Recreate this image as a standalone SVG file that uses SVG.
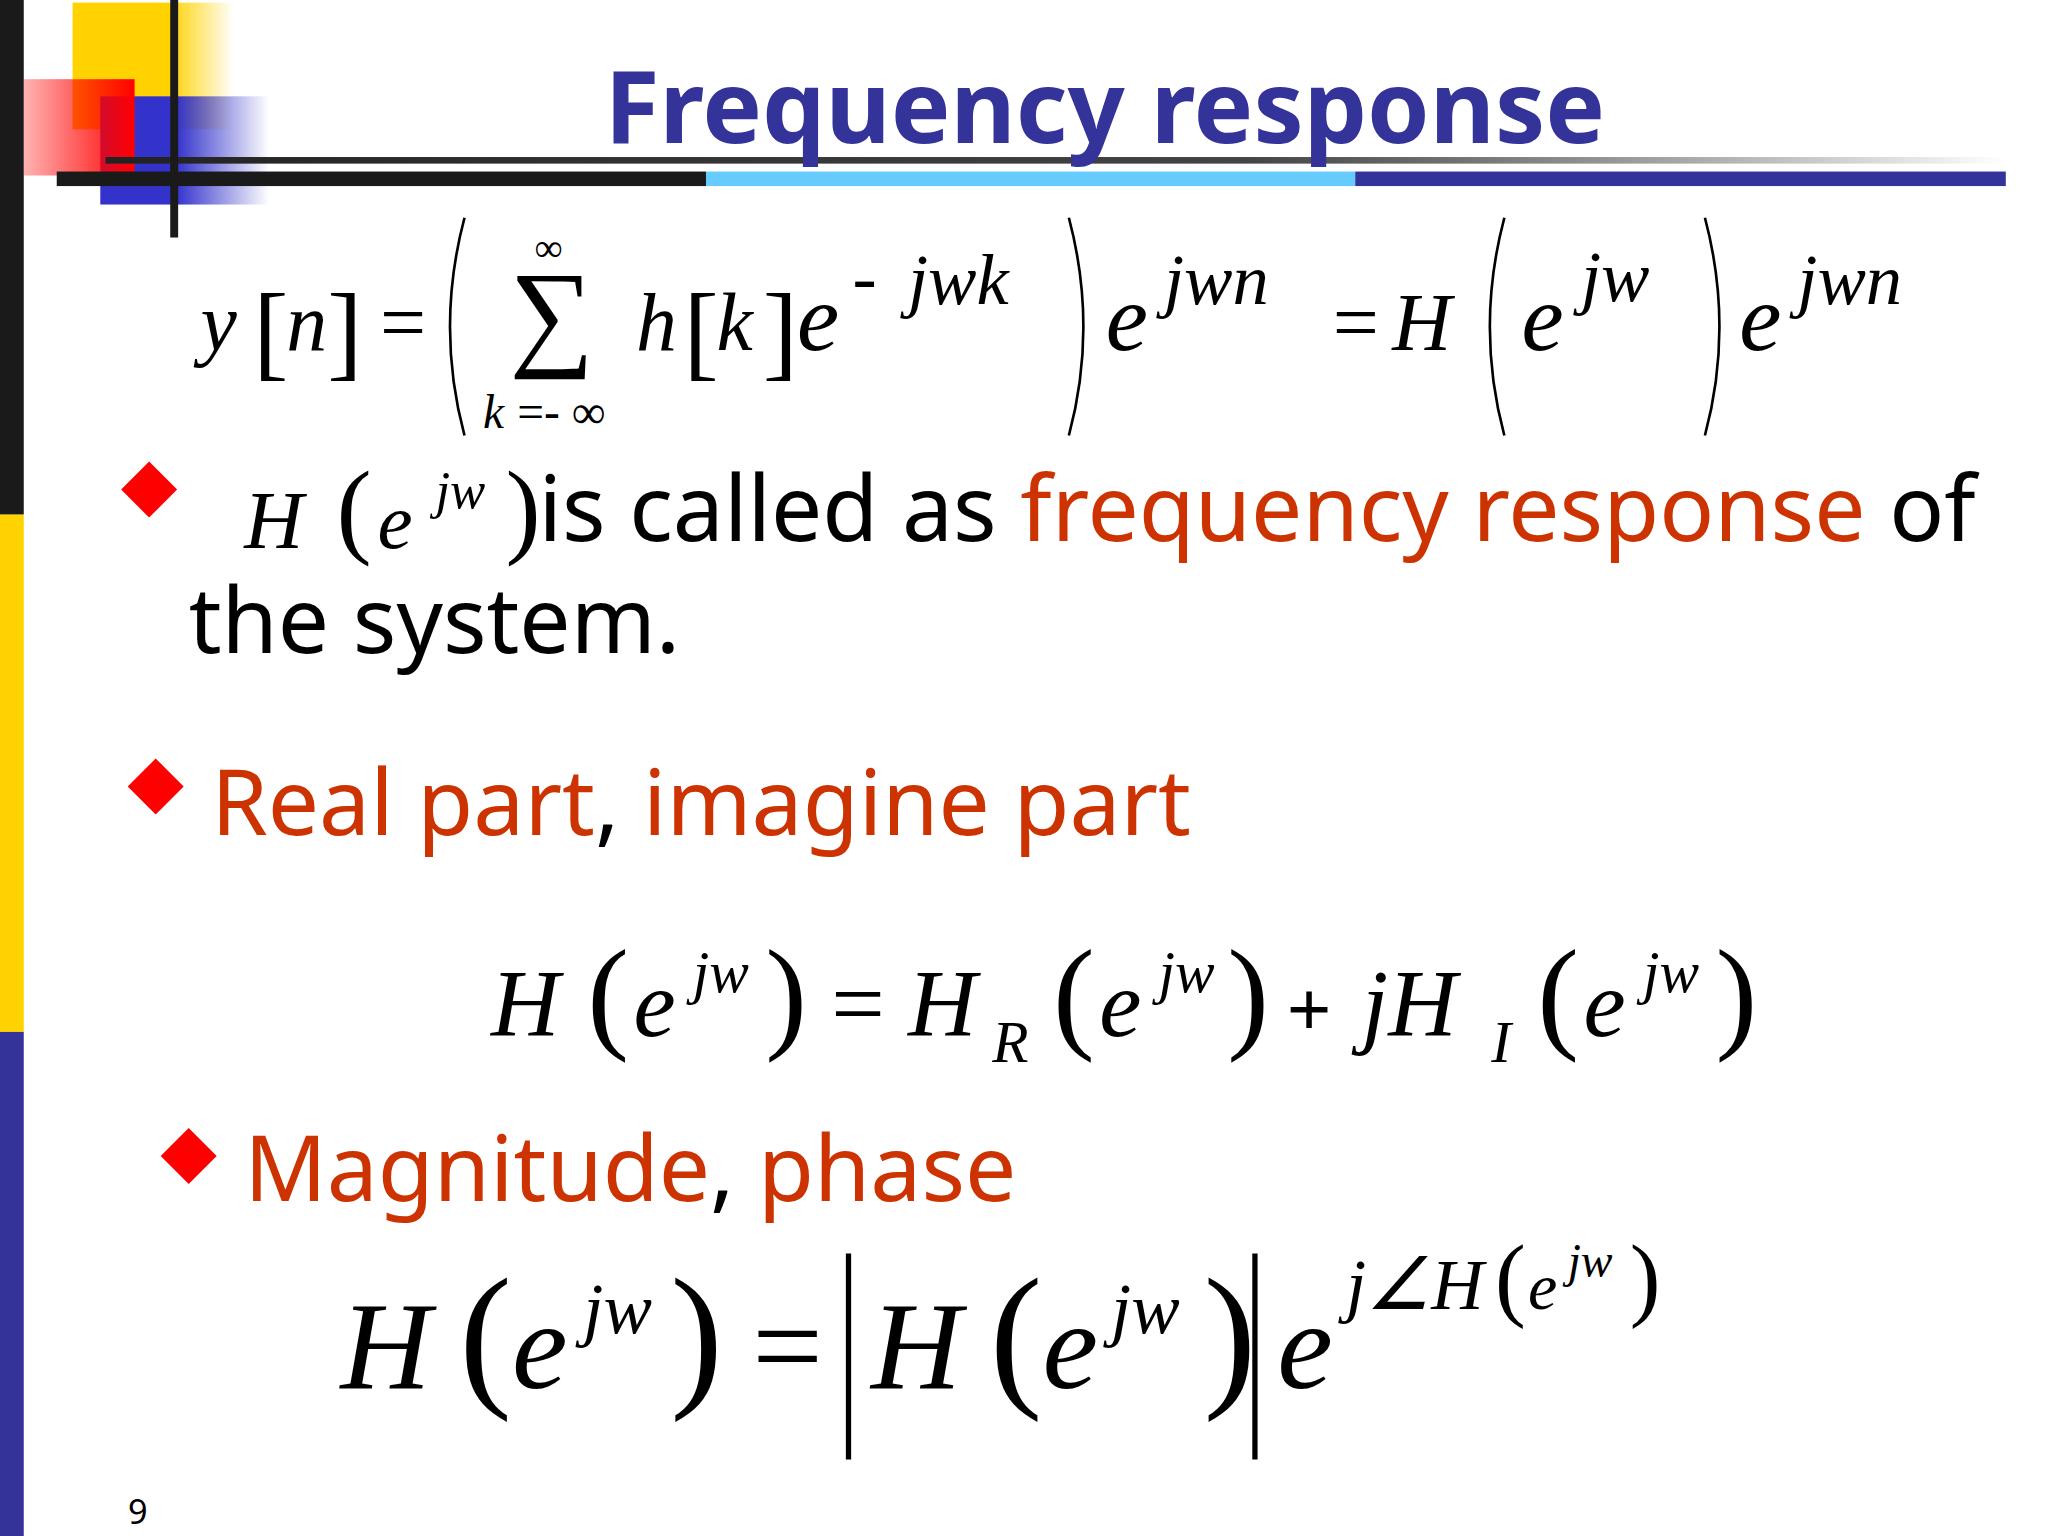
<svg xmlns="http://www.w3.org/2000/svg" width="2048" height="1536" viewBox="0 0 2048 1536">
<defs>
<linearGradient id="gy" x1="0" x2="1"><stop offset="0.6" stop-color="#FFD200"/><stop offset="1" stop-color="#FFD200" stop-opacity="0"/></linearGradient>
<linearGradient id="gr" x1="0" x2="1"><stop offset="0" stop-color="#FF0000" stop-opacity="0.3"/><stop offset="1" stop-color="#FF0000"/></linearGradient>
<linearGradient id="gb" x1="0" x2="1"><stop offset="0.45" stop-color="#3333CC"/><stop offset="1" stop-color="#3333CC" stop-opacity="0"/></linearGradient>
<linearGradient id="gl" x1="0" x2="1"><stop offset="0" stop-color="#222"/><stop offset="0.6" stop-color="#444"/><stop offset="1" stop-color="#222" stop-opacity="0"/></linearGradient>
<style>
.m{font-family:"Liberation Serif",serif;font-style:italic;fill:#000}
.r{font-family:"Liberation Serif",serif;fill:#000}
.t{font-family:"Noto Sans",sans-serif;fill:#000}
.o{fill:#CC3300}
.p{fill:none;stroke:#000;stroke-width:2}
</style>
</defs>
<g transform="scale(1.3196)">
<g id="deco">
<rect x="0" y="0" width="18" height="390" fill="#1a1a1a"/>
<rect x="0" y="390" width="18" height="392" fill="#FFD200"/>
<rect x="0" y="782" width="18" height="394" fill="#333399"/>
<rect x="55" y="2" width="122" height="96" fill="url(#gy)"/>
<rect x="76" y="73" width="128" height="82" fill="url(#gb)"/>
<rect x="18" y="60" width="84" height="73" fill="url(#gr)"/>
<rect x="80" y="119" width="1440" height="5" fill="url(#gl)"/>
<rect x="43" y="130" width="492" height="11" fill="#1a1a1a"/>
<rect x="535" y="130" width="492" height="11" fill="#66CCFF"/>
<rect x="1027" y="130" width="493" height="11" fill="#333399"/>
<rect x="129" y="0" width="6" height="180" fill="#1a1a1a"/>
</g>
<g id="title"><text x="458" y="108" font-family="Noto Sans,sans-serif" font-weight="bold" font-size="76" fill="#333399">Frequency response</text></g>
<g id="eq1">
<text class="m" x="152" y="265" font-size="62">y</text>
<text class="r" x="192" y="278" font-size="80">[</text>
<text class="m" x="217" y="265" font-size="62">n</text>
<text class="r" x="248" y="278" font-size="80">]</text>
<text class="r" x="288" y="265" font-size="62">=</text>
<path class="p" d="M352 165 Q330 248 352 330"/>
<text class="r" x="386" y="268" font-size="90">∑</text>
<text class="r" x="405" y="198" font-size="30">∞</text>
<text class="m" x="366" y="324" font-size="36">k</text>
<text class="r" x="392" y="324" font-size="36">=- ∞</text>
<text class="m" x="482" y="265" font-size="62">h</text>
<text class="r" x="518" y="278" font-size="80">[</text>
<text class="m" x="543" y="265" font-size="62">k</text>
<text class="r" x="578" y="278" font-size="80">]</text>
<text class="m" x="604" y="265" font-size="72">e</text>
<text class="r" x="646" y="228" font-size="55">-</text>
<text class="m" x="688" y="230" font-size="55">jwk</text>
<path class="p" d="M810 165 Q832 248 810 330"/>
<text class="m" x="838" y="265" font-size="72">e</text>
<text class="m" x="882" y="230" font-size="55">jwn</text>
<text class="r" x="1010" y="265" font-size="62">=</text>
<text class="m" x="1055" y="265" font-size="62">H</text>
<path class="p" d="M1140 165 Q1118 248 1140 330"/>
<text class="m" x="1153" y="265" font-size="72">e</text>
<text class="m" x="1198" y="228" font-size="55">jw</text>
<path class="p" d="M1292 165 Q1314 248 1292 330"/>
<text class="m" x="1318" y="265" font-size="72">e</text>
<text class="m" x="1362" y="230" font-size="55">jwn</text>
</g>
<g id="b1">
<rect x="98" y="356" width="30" height="30" fill="#FF0000" transform="rotate(45 113 371)"/>
<text class="m" x="185" y="415" font-size="62">H</text>
<text class="r" x="255" y="412" font-size="80">(</text>
<text class="m" x="286" y="415" font-size="60">e</text>
<text class="m" x="330" y="385" font-size="40">jw</text>
<text class="r" x="383" y="412" font-size="80">)</text>
<text class="t" x="408" y="410" font-size="69">is called as <tspan class="o">frequency response</tspan> of</text>
<text class="t" x="143" y="495" font-size="69">the system.</text>
</g>
<g id="b2">
<rect x="103" y="581" width="30" height="30" fill="#FF0000" transform="rotate(45 118 596)"/>
<text class="t" x="160" y="633" font-size="69"><tspan class="o">Real part</tspan>, <tspan class="o">imagine part</tspan></text>
</g>
<g id="eq2">
<text class="m" x="372" y="785" font-size="72">H</text>
<text class="r" x="445" y="785" font-size="95">(</text>
<text class="m" x="480" y="785" font-size="72">e</text>
<text class="m" x="525" y="752" font-size="45">jw</text>
<text class="r" x="580" y="785" font-size="95">)</text>
<text class="r" x="630" y="785" font-size="72">=</text>
<text class="m" x="688" y="785" font-size="72">H</text>
<text class="m" x="752" y="805" font-size="45">R</text>
<text class="r" x="798" y="785" font-size="95">(</text>
<text class="m" x="833" y="785" font-size="72">e</text>
<text class="m" x="878" y="752" font-size="45">jw</text>
<text class="r" x="930" y="785" font-size="95">)</text>
<text class="r" x="975" y="785" font-size="60" font-weight="bold">+</text>
<text class="m" x="1032" y="785" font-size="72">jH</text>
<text class="m" x="1130" y="805" font-size="45">I</text>
<text class="r" x="1165" y="785" font-size="95">(</text>
<text class="m" x="1200" y="785" font-size="72">e</text>
<text class="m" x="1245" y="752" font-size="45">jw</text>
<text class="r" x="1300" y="785" font-size="95">)</text>
</g>
<g id="b3">
<rect x="128" y="861" width="30" height="30" fill="#FF0000" transform="rotate(45 143 876)"/>
<text class="t" x="185" y="910" font-size="69"><tspan class="o">Magnitude</tspan>, <tspan class="o">phase</tspan></text>
</g>
<g id="eq3">
<text class="m" x="258" y="1052" font-size="95">H</text>
<text class="r" x="348" y="1052" font-size="120">(</text>
<text class="m" x="388" y="1052" font-size="95">e</text>
<text class="m" x="442" y="1010" font-size="55">jw</text>
<text class="r" x="508" y="1052" font-size="120">)</text>
<text class="r" x="570" y="1052" font-size="95">=</text>
<line x1="643" y1="950" x2="643" y2="1106" stroke="#000" stroke-width="4"/>
<text class="m" x="660" y="1052" font-size="95">H</text>
<text class="r" x="750" y="1052" font-size="120">(</text>
<text class="m" x="790" y="1052" font-size="95">e</text>
<text class="m" x="842" y="1010" font-size="55">jw</text>
<text class="r" x="912" y="1052" font-size="120">)</text>
<line x1="951" y1="950" x2="951" y2="1106" stroke="#000" stroke-width="4"/>
<text class="m" x="968" y="1052" font-size="95">e</text>
<text class="m" x="1020" y="992" font-size="55">j∠H</text>
<text class="r" x="1133" y="992" font-size="70">(</text>
<text class="m" x="1158" y="992" font-size="50">e</text>
<text class="m" x="1188" y="968" font-size="36">jw</text>
<text class="r" x="1235" y="992" font-size="70">)</text>
</g>
<text class="t" x="97" y="1155" font-size="26">9</text>
</g>
</svg>
